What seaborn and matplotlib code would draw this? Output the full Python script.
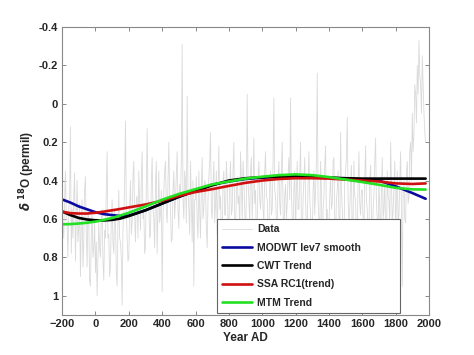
import numpy as np
import pandas as pd
import matplotlib
matplotlib.use("Agg")
import matplotlib.pyplot as plt
import seaborn as sns

# Raw d18O record (5-year steps from -200 AD)
data_values = [
    # -200 .. -5
    0.45, 0.62, 0.70, 0.50, 0.35, 0.58, 0.62, 0.80, 0.55, 0.48, 0.12, 0.78, 0.55, 0.70, 0.48, 0.36, 0.82, 0.60, 0.40, 0.72,
    0.65, 0.52, 0.90, 0.62, 0.50, 0.85, 0.72, 0.45, 0.38, 0.66, 0.85, 0.55, 0.60, 0.92, 0.95, 0.70, 0.58, 0.80, 0.75, 0.62,
    # 0 .. 195
    0.88, 0.72, 1.00, 0.80, 0.62, 0.75, 0.80, 0.60, 0.55, 0.82, 0.92, 0.66, 0.70, 0.45, 0.25, 0.70, 0.68, 0.90, 0.85, 0.60,
    0.50, 0.72, 0.78, 0.55, 0.60, 0.88, 0.95, 0.62, 0.45, 0.70, 0.72, 0.80, 1.05, 0.65, 0.58, 0.40, 0.09, 0.55, 0.70, 0.82,
    # 200 .. 395
    0.80, 0.55, 0.40, 0.68, 0.62, 0.38, 0.30, 0.58, 0.72, 0.50, 0.48, 0.70, 0.35, 0.52, 0.66, 0.40, 0.25, 0.60, 0.55, 0.78,
    0.75, 0.45, 0.13, 0.50, 0.52, 0.70, 0.68, 0.42, 0.28, 0.55, 0.60, 0.75, 0.42, 0.30, 0.78, 0.55, 0.35, 0.62, 0.58, 0.45,
    # 400 .. 595
    0.98, 0.60, 0.45, 0.35, 0.30, 0.55, 0.62, 0.40, 0.20, 0.48, 0.55, 0.72, 0.70, 0.45, 0.35, 0.60, 0.50, 0.38, 0.25, 0.55,
    0.65, 0.42, 0.48, 0.30, -0.31, 0.50, 0.60, 0.35, 0.40, 0.62, -0.04, 0.45, 0.55, 0.68, 0.30, 0.52, 0.72, 0.40, 0.95, 0.50,
    # 600 .. 795
    0.50, 0.38, 0.62, 0.70, 0.35, 0.55, 0.70, 0.45, 0.28, 0.60, 0.55, 0.40, 0.42, 0.65, 0.75, 0.50, 0.38, 0.30, 0.15, 0.55,
    0.60, 0.42, 0.30, 0.62, 0.52, 0.35, 0.68, 0.48, 0.22, 0.55, 0.48, 0.70, 0.72, 0.40, 0.35, 0.58, 0.58, 0.30, 0.40, 0.62,
    # 800 .. 995
    0.65, 0.42, 0.30, 0.58, 0.55, 0.35, 0.20, 0.60, 0.70, 0.45, 0.38, 0.52, 0.48, 0.66, 0.25, 0.40, 0.62, 0.30, 0.40, 0.55,
    0.72, 0.48, -0.05, 0.40, 0.50, 0.62, 0.35, 0.28, 0.60, 0.45, 0.18, 0.52, 0.45, 0.70, 0.68, 0.38, 0.30, 0.50, 0.55, 0.42,
    # 1000 .. 1195
    0.40, 0.55, 0.62, 0.35, 0.25, 0.48, 0.50, 0.65, 0.70, 0.42, 0.35, 0.58, 0.55, 0.30, -0.03, 0.45, 0.48, 0.62, 0.65, 0.40,
    0.30, 0.52, 0.58, 0.35, 0.20, 0.55, 0.72, 0.48, 0.42, 0.60, 0.52, 0.38, 0.28, 0.50, -0.03, 0.45, 0.60, 0.68, 0.45, 0.35,
    # 1200 .. 1395
    0.68, 0.45, 0.30, 0.55, 0.55, 0.38, 0.20, 0.62, 0.75, 0.50, 0.40, 0.28, 0.50, 0.65, 0.62, 0.42, 0.25, 0.48, 0.58, 0.70,
    0.70, 0.45, 0.35, 0.58, 0.45, 0.30, -0.16, 0.50, 0.60, 0.72, 0.30, 0.45, 0.78, 0.55, 0.48, 0.32, 0.22, 0.60, 0.55, 0.68,
    # 1400 .. 1595
    0.65, 0.48, 0.38, 0.55, 0.52, 0.30, 0.28, 0.62, 0.70, 0.50, 0.45, 0.35, 0.60, 0.72, 0.15, 0.45, 0.55, 0.68, 0.72, 0.40,
    0.35, 0.28, 0.07, 0.50, 0.62, 0.55, 0.40, 0.32, 0.75, 0.60, 0.30, 0.48, 0.50, 0.70, 0.68, 0.40, 0.25, 0.52, 0.58, 0.45,
    # 1600 .. 1795
    0.45, 0.62, 0.70, 0.38, 0.22, 0.50, 0.55, 0.72, 0.65, 0.40, 0.32, 0.58, 0.78, 0.55, 0.48, 0.30, 0.18, 0.52, 0.60, 0.70,
    0.40, 0.55, 0.72, 0.45, 0.28, 0.60, 0.55, 0.38, 0.68, 0.75, 0.35, 0.48, 0.50, 0.62, 0.20, 0.40, 0.62, 0.55, 0.42, 0.30,
    # 1800 .. 1980
    0.70, 0.48, 0.35, 0.62, 0.58, 0.40, 0.25, 0.55, 0.95, 0.45, 0.40, 0.60, 0.62, 0.35, 0.30, 0.52, 0.48, 0.25, 0.20, 0.40,
    0.05, 0.25, 0.15, -0.10, -0.05, 0.10, -0.20, -0.05, -0.33, -0.15, -0.10, 0.05, -0.25, -0.10, 0.05, 0.15, 0.20,
]
data_years = list(range(-200, -200 + 5 * len(data_values), 5))

# Trend curves
trend_years = [-195, -150, -100, -50, 0, 50, 100, 150, 200, 300, 400, 500, 600, 700,
               800, 900, 1000, 1100, 1200, 1300, 1400, 1500, 1600, 1700, 1800, 1900, 1980]
modwt = [0.50, 0.515, 0.535, 0.55, 0.565, 0.575, 0.58, 0.585, 0.583, 0.555, 0.52, 0.485, 0.45, 0.422,
         0.405, 0.392, 0.385, 0.38, 0.378, 0.38, 0.385, 0.39, 0.395, 0.40, 0.43, 0.465, 0.495]
cwt = [0.563, 0.58, 0.595, 0.603, 0.607, 0.608, 0.605, 0.598, 0.585, 0.555, 0.52, 0.485, 0.455, 0.425,
       0.40, 0.388, 0.383, 0.38, 0.38, 0.383, 0.385, 0.388, 0.39, 0.39, 0.39, 0.39, 0.39]
ssa = [0.563, 0.57, 0.572, 0.572, 0.568, 0.562, 0.555, 0.548, 0.54, 0.525, 0.505, 0.48, 0.46, 0.445,
       0.428, 0.412, 0.40, 0.392, 0.388, 0.388, 0.39, 0.395, 0.40, 0.405, 0.415, 0.418, 0.415]
mtm = [0.628, 0.627, 0.624, 0.62, 0.614, 0.605, 0.595, 0.582, 0.568, 0.535, 0.50, 0.47, 0.445, 0.42,
       0.405, 0.39, 0.38, 0.372, 0.368, 0.372, 0.382, 0.395, 0.408, 0.422, 0.438, 0.446, 0.447]

x_ticks = [-200, 0, 200, 400, 600, 800, 1000, 1200, 1400, 1600, 1800, 2000]
y_ticks = [-0.4, -0.2, 0, 0.2, 0.4, 0.6, 0.8, 1]
y_labels = ["-0.4", "-0.2", "0", "0.2", "0.4", "0.6", "0.8", "1"]

sns.set_style("ticks")
plt.rcParams["font.family"] = ["Liberation Sans", "DejaVu Sans"]
plt.rcParams["font.weight"] = "bold"
plt.rcParams["xtick.direction"] = "in"
plt.rcParams["ytick.direction"] = "in"

fig = plt.figure(figsize=(4.74, 3.55), dpi=100)
ax = fig.add_axes([0.131, 0.113, 0.774, 0.811])

sns.lineplot(x=data_years, y=data_values, ax=ax, color="#dadada", linewidth=0.6, label="Data")
sns.lineplot(x=trend_years, y=modwt, ax=ax, color="#0a0aa0", linewidth=1.9, label="MODWT lev7 smooth")
sns.lineplot(x=trend_years, y=cwt, ax=ax, color="black", linewidth=1.9, label="CWT Trend")
sns.lineplot(x=trend_years, y=ssa, ax=ax, color="#d01010", linewidth=1.9, label="SSA RC1(trend)")
sns.lineplot(x=trend_years, y=mtm, ax=ax, color="#22e022", linewidth=1.9, label="MTM Trend")

ax.set_xlim(-200, 2000)
ax.set_ylim(1.1, -0.4)
ax.set_xticks(x_ticks)
ax.set_yticks(y_ticks)
ax.set_yticklabels(y_labels)
ax.tick_params(labelsize=8, length=3, width=0.6, color="#777777", top=True, right=True, pad=3)
for lab in ax.get_xticklabels() + ax.get_yticklabels():
    lab.set_fontweight("bold")
for s in ax.spines.values():
    s.set_color("#888888")
    s.set_linewidth(0.8)

ax.set_xlabel("Year AD", fontsize=8.5, fontweight="bold", labelpad=2)
ax.set_ylabel(r"$\delta$ $^{\mathbf{18}}$O (permil)", fontsize=8.5, fontweight="bold", labelpad=1)

# MATLAB-style legend box: wider than its text
leg = ax.legend(loc="lower left", bbox_to_anchor=(0.422, 0.007, 0.499, 0.33), mode="expand",
                borderaxespad=0, fancybox=False, framealpha=1, edgecolor="#666666", fontsize=7.5,
                handlelength=2.9, labelspacing=0.8, borderpad=0.5, handletextpad=0.45)
leg.get_frame().set_linewidth(0.8)
for t in leg.get_texts():
    t.set_fontweight("bold")

fig.savefig("out.png", dpi=100)
